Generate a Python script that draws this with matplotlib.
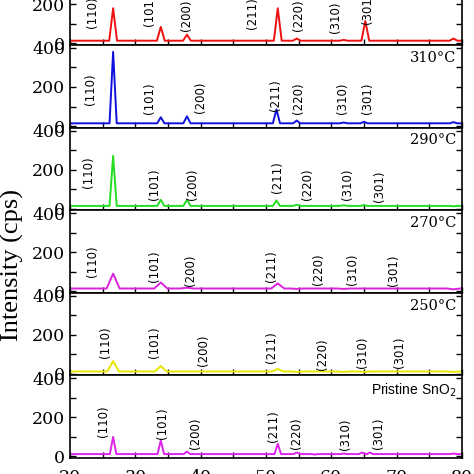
import matplotlib
matplotlib.use("Agg")
import matplotlib.pyplot as plt
import numpy as np

panels = ["330", "310°C", "290°C", "270°C", "250°C", "Pristine SnO$_2$"]
colors = ["#ee1111", "#1111dd", "#22dd22", "#dd22dd", "#e6e600", "#dd22ee"]
baselines = [14, 14, 14, 14, 12, 12]
peak_pos = [
    [26.6, 33.9, 37.9, 51.8, 54.7, 61.9, 65.2, 78.7],
    [26.6, 33.9, 37.9, 51.6, 54.7, 61.9, 65.0, 78.7],
    [26.6, 33.9, 37.9, 51.6, 54.7, 61.9, 65.0, 78.7],
    [26.6, 33.9, 37.9, 51.8, 54.7, 61.9, 65.0, 78.7],
    [26.6, 33.9, 37.9, 51.8, 54.7, 61.9, 65.0, 78.7],
    [26.6, 33.9, 37.9, 51.8, 54.7, 57.5, 61.9, 64.7, 65.9, 78.7],
]
peak_h = [
    [180, 85, 45, 180, 25, 18, 115, 25],
    [380, 45, 50, 85, 28, 18, 22, 20],
    [270, 45, 45, 42, 20, 18, 18, 12],
    [90, 45, 18, 40, 12, 12, 14, 10],
    [65, 40, 12, 25, 10, 10, 10, 10],
    [100, 82, 25, 65, 20, 10, 15, 20, 20, 15],
]
peak_w = [0.6, 0.55, 0.55, 1.0, 0.9, 0.5]

hkl = ["(110)", "(101)", "(200)", "(211)", "(220)", "(310)", "(301)"]
lab_x = [
    [23.4, 32.2, 37.9, 48.0, 54.9, 60.6, 65.5],
    [23.1, 32.2, 39.9, 51.4, 54.9, 61.7, 65.6],
    [22.9, 33.0, 38.7, 51.7, 56.3, 62.4, 67.4],
    [23.5, 33.0, 38.4, 50.9, 58.0, 63.3, 69.5],
    [25.4, 33.0, 40.4, 50.9, 58.7, 64.7, 70.5],
    [25.1, 34.2, 39.2, 51.1, 54.7, 62.1, 67.2],
]
lab_y = [
    [160, 170, 145, 155, 145, 135, 180],
    [190, 145, 145, 160, 145, 140, 140],
    [185, 125, 125, 160, 125, 125, 115],
    [155, 130, 110, 130, 115, 115, 110],
    [160, 160, 120, 135, 100, 110, 110],
    [180, 170, 120, 155, 120, 112, 120],
]

def curve(pos, h, w, base):
    xs, ys = [20.0], [base]
    for p, hh in zip(pos, h):
        xs += [p - w, p, p + w]
        ys += [base, hh, base]
    xs.append(80.0); ys.append(base)
    return np.array(xs), np.array(ys)

W = 474
fig = plt.figure(figsize=(4.74, 4.74), dpi=100)
serif = "DejaVu Serif"
left, width = 70 / W, 392 / W
ph = 82.6
for i in range(6):
    bot_px = 458 - ph * (5 - i)
    ax = fig.add_axes([left, 1 - bot_px / W, width, ph / W])
    x, y = curve(peak_pos[i], peak_h[i], peak_w[i], baselines[i])
    ax.plot(x, y, color=colors[i], lw=1.4)
    ax.set_xlim(20, 80)
    ax.set_ylim(-8, 415)
    ax.set_yticks([0, 200, 400])
    ax.set_yticks([100, 300], minor=True)
    ax.set_xticks(np.arange(20, 81, 10))
    ax.set_xticks(np.arange(25, 80, 10), minor=True)
    ax.tick_params(which="both", direction="in", right=True, length=4, width=1)
    ax.tick_params(axis="x", pad=8)
    for lab in ax.get_yticklabels():
        lab.set_fontfamily(serif); lab.set_fontsize(12.5)
    if i < 5:
        ax.set_xticklabels([])
    else:
        for lab in ax.get_xticklabels():
            lab.set_fontfamily(serif); lab.set_fontsize(12.5)
    for s in ax.spines.values():
        s.set_linewidth(1.2)
    for t, lx, ly in zip(hkl, lab_x[i], lab_y[i]):
        ax.text(lx, ly, t, rotation=90, ha="center", va="center", fontsize=8.5,
                family="Liberation Sans Narrow")
    if i > 0:
        if i == 5:
            ax.text(0.985, 0.93, panels[i], transform=ax.transAxes, ha="right", va="top",
                    fontsize=10, family="Liberation Sans")
        else:
            ax.text(0.985, 0.93, panels[i], transform=ax.transAxes, ha="right", va="top",
                    fontsize=10.5, family=serif)

fig.text(0.026, 0.44, "Intensity (cps)", rotation=90, ha="center", va="center",
         fontsize=19, family="Liberation Serif")
fig.savefig("out.png", dpi=100)
